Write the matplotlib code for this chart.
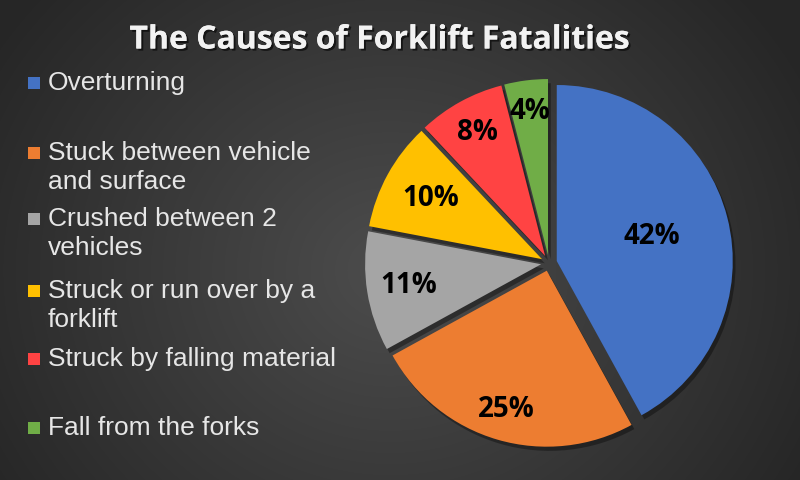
import numpy as np
import matplotlib
matplotlib.use("Agg")
import matplotlib.pyplot as plt
from matplotlib.patches import Rectangle
import matplotlib.patheffects as pe

# ---- data ----
title = "The Causes of Forklift Fatalities"
categories = [
    "Overturning",
    "Stuck between vehicle\nand surface",
    "Crushed between 2\nvehicles",
    "Struck or run over by a\nforklift",
    "Struck by falling material",
    "Fall from the forks",
]
percent = [42, 25, 11, 10, 8, 4]
colors = ["#4472C4", "#ED7D31", "#A5A5A5", "#FFC000", "#FF4343", "#70AD47"]

# ---- layout ----
W, H = 800, 480
fig = plt.figure(figsize=(8, 4.8), dpi=100)

# background radial gradient
bg = fig.add_axes([0, 0, 1, 1])
yy, xx = np.mgrid[0:H, 0:W]
d = np.sqrt(((xx - 390) / 1.0) ** 2 + ((yy - 270) / 0.9) ** 2)
t = np.clip(d / 470.0, 0, 1)
g = 0.30 * (1 - t) + 0.15 * t
img = np.dstack([g, g, g])
bg.imshow(img, extent=[0, W, H, 0], aspect="auto", interpolation="bilinear")
bg.set_xlim(0, W)
bg.set_ylim(H, 0)
bg.axis("off")

# title
bg.text(380, 40, title, ha="center", va="center", color="#F2F2F2",
        fontsize=23, fontweight="bold", family="Open Sans",
        path_effects=[pe.withSimplePatchShadow(offset=(1.5, -1.5), shadow_rgbFace="black", alpha=0.6),
                      pe.Normal()])

# legend (manual)
legend_y = [82, 152, 218, 290, 358, 427]
for lab, col, y in zip(categories, colors, legend_y):
    bg.add_patch(Rectangle((28, y - 5), 12, 12, facecolor=col, edgecolor="none"))
    bg.text(48, y - 11, lab, ha="left", va="top", color="#E6E6E6",
            fontsize=19, family="Liberation Sans", linespacing=1.26)

# pie
cx, cy, R = 549, 263, 176
S = 200
ax = fig.add_axes([(cx - S) / W, (H - cy - S) / H, 2 * S / W, 2 * S / H])
explode = [8] * len(percent)
wedges, texts, autotexts = ax.pie(
    percent, colors=colors, startangle=90, counterclock=False,
    radius=R, explode=explode, autopct=lambda p: f"{p:.0f}%",
    pctdistance=0.7, wedgeprops=dict(linewidth=0),
    textprops=dict(fontsize=20, fontweight="bold", color="black", family="Open Sans"),
    shadow=dict(ox=2, oy=-3, alpha=0.35, facecolor="black"),
)
ax.set_xlim(-S, S)
ax.set_ylim(-S, S)
ax.set_aspect("auto")
ax.axis("off")

label_r = [0.56, 0.82, 0.76, 0.72, 0.80, 0.82]
for w, at, lr in zip(wedges, autotexts, label_r):
    th = np.deg2rad(0.5 * (w.theta1 + w.theta2))
    x0, y0 = w.center
    at.set_position((x0 + lr * R * np.cos(th), y0 + lr * R * np.sin(th)))

fig.savefig("out.png", dpi=100)
